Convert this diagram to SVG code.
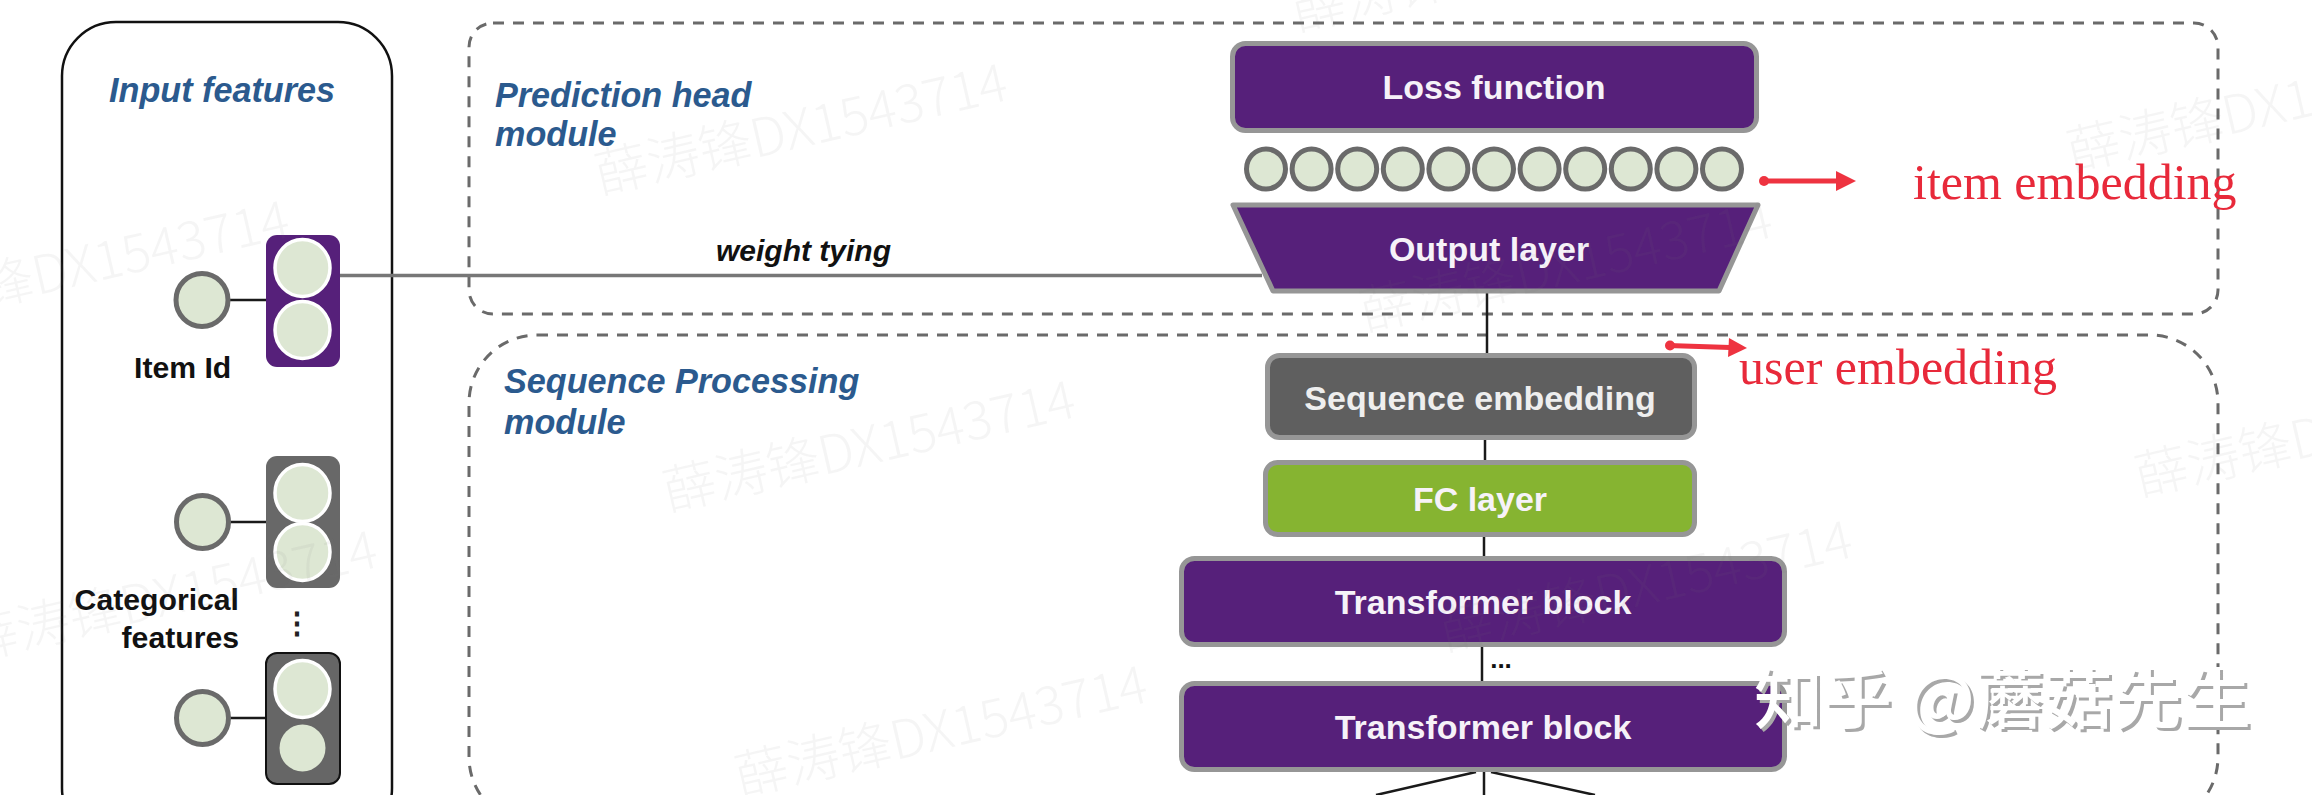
<svg xmlns="http://www.w3.org/2000/svg" width="2312" height="795" viewBox="0 0 2312 795">
<style>
text{font-family:"Liberation Sans",Arial,sans-serif}
.bg{fill:#fff}
.mod{fill:none;stroke:#6a6a6a;stroke-width:3;stroke-dasharray:11 9}
.h{font-weight:bold;font-style:italic;font-size:34.200px;fill:#2b5a8e}
.l{font-weight:bold;font-size:30.200px;fill:#111}
.b{stroke:#969696;stroke-width:5;stroke-linejoin:round}
.p{fill:#56207a}
.t{font-weight:bold;font-size:34px;fill:#f6f2f8;text-anchor:middle}
.c{fill:#dde7d3;stroke:#6a6a6a;stroke-width:5}
.w{fill:#dde7d3;stroke:#fff;stroke-width:3.5}
.k{stroke:#1a1a1a;stroke-width:2.5;fill:none}
.r{font-family:"Liberation Serif","Times New Roman",serif;font-size:50px;fill:#e8293a}
.wm{font-family:"Noto Sans CJK SC","Liberation Sans",sans-serif;font-size:53px;font-weight:300;fill:#777;fill-opacity:.075}
.rl{stroke:#ee3340;stroke-width:5;fill:none}
.rh{fill:#ee3340}
.z{font-family:"Noto Sans CJK SC","Liberation Sans",sans-serif;font-size:66px;font-weight:500}
</style>
<rect class="bg" width="2312" height="795"/>

<g id="input-features">
<rect x="62" y="22" width="330" height="820" rx="54" ry="54" fill="none" stroke="#111" stroke-width="2.5"/>
<text class="h" x="109" y="102">Input features</text>
</g>
<g id="prediction-head-module">
<rect class="mod" x="469" y="23" width="1749" height="291" rx="24"/>
<text class="h" x="495" y="107">Prediction head</text>
<text class="h" x="495" y="146">module</text>
</g>
<g id="sequence-processing-module">
<rect class="mod" x="469" y="335" width="1749" height="490" rx="68"/>
<text class="h" x="504" y="393">Sequence Processing</text>
<text class="h" x="504" y="434">module</text>
</g>

<g id="connectors">
<line x1="339" y1="275.500" x2="1262" y2="275.500" stroke="#777" stroke-width="3.500"/>
<line class="k" x1="228" y1="300" x2="267" y2="300"/>
<line class="k" x1="228" y1="522" x2="267" y2="522"/>
<line class="k" x1="228" y1="718" x2="267" y2="718"/>
<line class="k" x1="1487" y1="293" x2="1487" y2="354"/>
<line class="k" x1="1485" y1="440" x2="1485" y2="460"/>
<line class="k" x1="1484" y1="537" x2="1484" y2="556"/>
<line class="k" x1="1482" y1="647" x2="1482" y2="681"/>
<line class="k" x1="1484" y1="772" x2="1484" y2="795"/>
<line class="k" x1="1476" y1="772" x2="1376" y2="795" stroke-width="3"/>
<line class="k" x1="1491" y1="772" x2="1595" y2="795" stroke-width="3"/>
</g>

<text x="716" y="261" font-weight="bold" font-style="italic" font-size="30" fill="#111">weight tying</text>

<g id="item-id">
<rect class="p" x="266" y="235" width="74" height="132" rx="11"/>
<ellipse class="w" cx="302.500" cy="268" rx="27.500" ry="28.500"/>
<ellipse class="w" cx="302.500" cy="330" rx="27.500" ry="28.500"/>
<ellipse class="c" cx="202" cy="300" rx="26" ry="26.500"/>
<text class="l" x="134" y="378">Item Id</text>
</g>
<g id="categorical-1">
<rect x="266" y="456" width="74" height="132" rx="11" fill="#686868"/>
<ellipse class="w" cx="302.500" cy="493" rx="27.500" ry="28.500"/>
<ellipse class="w" cx="302.500" cy="552" rx="27.500" ry="28.500"/>
<ellipse class="c" cx="202.500" cy="522" rx="26" ry="26.500"/>
</g>
<g id="categorical-label">
<text class="l" x="239" y="610" text-anchor="end">Categorical</text>
<text class="l" x="239" y="648" text-anchor="end">features</text>
<text x="297" y="633" font-family="DejaVu Sans" font-weight="bold" font-size="30" fill="#222" text-anchor="middle">⋮</text>
</g>
<g id="categorical-2">
<rect x="266" y="653" width="74" height="131" rx="11" fill="#666" stroke="#111" stroke-width="2"/>
<ellipse class="w" cx="302.500" cy="689" rx="27.500" ry="28.500"/>
<ellipse cx="302.500" cy="748" rx="23" ry="23.500" fill="#dde7d3"/>
<ellipse class="c" cx="202.500" cy="718" rx="26" ry="26.500"/>
</g>

<g id="loss-function">
<rect class="b p" x="1232.500" y="43.500" width="524" height="87" rx="13"/>
<text class="t" x="1494" y="99">Loss function</text>
</g>
<g id="item-vector">
<ellipse class="c" cx="1266" cy="169" rx="19.500" ry="20"/>
<ellipse class="c" cx="1311.600" cy="169" rx="19.500" ry="20"/>
<ellipse class="c" cx="1357.200" cy="169" rx="19.500" ry="20"/>
<ellipse class="c" cx="1402.800" cy="169" rx="19.500" ry="20"/>
<ellipse class="c" cx="1448.400" cy="169" rx="19.500" ry="20"/>
<ellipse class="c" cx="1494" cy="169" rx="19.500" ry="20"/>
<ellipse class="c" cx="1539.600" cy="169" rx="19.500" ry="20"/>
<ellipse class="c" cx="1585.200" cy="169" rx="19.500" ry="20"/>
<ellipse class="c" cx="1630.800" cy="169" rx="19.500" ry="20"/>
<ellipse class="c" cx="1676.400" cy="169" rx="19.500" ry="20"/>
<ellipse class="c" cx="1722" cy="169" rx="19.500" ry="20"/>
</g>
<g id="output-layer">
<polygon class="b p" points="1233,205 1758,205 1719,291 1273,291"/>
<text class="t" x="1489" y="261">Output layer</text>
</g>
<g id="sequence-embedding">
<rect class="b" fill="#5f5f5f" x="1267.500" y="355.500" width="427" height="82" rx="12"/>
<text class="t" x="1480" y="410" style="fill:#eee">Sequence embedding</text>
</g>
<g id="fc-layer">
<rect class="b" fill="#86b431" x="1265.500" y="462.500" width="429" height="72" rx="12"/>
<text class="t" x="1480" y="511">FC layer</text>
</g>
<g id="transformer-block-1">
<rect class="b p" x="1181.500" y="558.500" width="603" height="86" rx="13"/>
<text class="t" x="1483" y="614">Transformer block</text>
</g>
<text x="1501" y="668" font-weight="bold" font-size="26" fill="#111" text-anchor="middle">...</text>
<g id="transformer-block-2">
<rect class="b p" x="1181.500" y="683.500" width="603" height="86" rx="13"/>
<text class="t" x="1483" y="739">Transformer block</text>
</g>

<g id="annotations">
<line class="rl" x1="1761" y1="181" x2="1838" y2="181"/>
<circle class="rh" cx="1764" cy="181" r="5"/>
<polygon class="rh" points="1836,171 1856,181 1836,191"/>
<text class="r" x="1913" y="199">item embedding</text>
<line class="rl" x1="1668" y1="345.500" x2="1730" y2="347.500"/>
<circle class="rh" cx="1670" cy="345.500" r="5"/>
<polygon class="rh" points="1729,338 1747,348 1728,357"/>
<text class="r" x="1739" y="384">user embedding</text>
</g>

<g id="watermarks">
<text class="wm" transform="translate(600 194) rotate(-13)">薛涛锋DX1543714</text>
<text class="wm" transform="translate(-118 331) rotate(-13)">薛涛锋DX1543714</text>
<text class="wm" transform="translate(668 511) rotate(-13)">薛涛锋DX1543714</text>
<text class="wm" transform="translate(-30 661) rotate(-13)">薛涛锋DX1543714</text>
<text class="wm" transform="translate(740 796) rotate(-13)">薛涛锋DX1543714</text>
<text class="wm" transform="translate(1365 331) rotate(-13)">薛涛锋DX1543714</text>
<text class="wm" transform="translate(1445 651) rotate(-13)">薛涛锋DX1543714</text>
<text class="wm" transform="translate(1297 31) rotate(-13)">薛涛锋DX1543714</text>
<text class="wm" transform="translate(2072 171) rotate(-13)">薛涛锋DX1543714</text>
<text class="wm" transform="translate(2140 496) rotate(-13)">薛涛锋DX1543714</text>
</g>
<g id="zhihu-mark">
<text class="z" x="1757" y="726" fill="#a8a8a8" textLength="497" lengthAdjust="spacingAndGlyphs">知乎 @蘑菇先生</text>
<text class="z" x="1754" y="723" fill="#fff" textLength="497" lengthAdjust="spacingAndGlyphs">知乎 @蘑菇先生</text>
</g>
</svg>
